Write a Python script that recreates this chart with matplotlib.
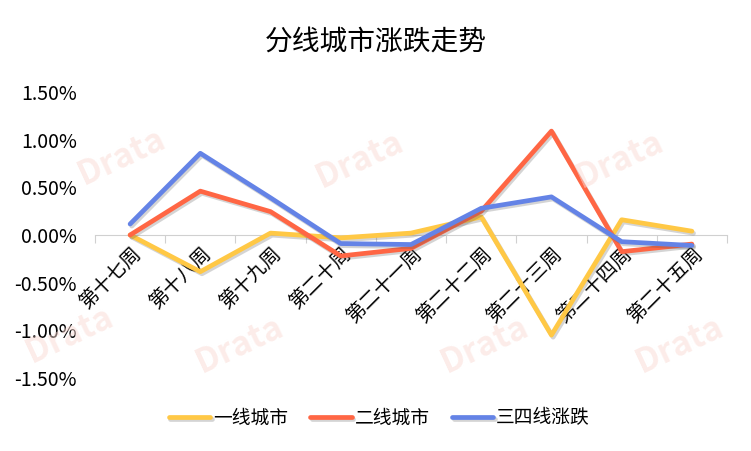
import numpy as np
import matplotlib
matplotlib.use('Agg')
import matplotlib.pyplot as plt
import matplotlib.patheffects as pe
from matplotlib.ticker import FuncFormatter

plt.rcParams['font.family'] = ['Noto Sans CJK SC', 'DejaVu Sans']

weeks = ['第十七周', '第十八周', '第十九周', '第二十周', '第二十一周',
         '第二十二周', '第二十三周', '第二十四周', '第二十五周']
tier1 = [0.00, -0.385, 0.02, -0.03, 0.02, 0.19, -1.05, 0.16, 0.04]
tier2 = [0.00, 0.46, 0.245, -0.22, -0.14, 0.25, 1.09, -0.175, -0.095]
tier34 = [0.115, 0.857, 0.39, -0.09, -0.10, 0.28, 0.40, -0.07, -0.11]
names = ['一线城市', '二线城市', '三四线涨跌']
colors = ['#FFC845', '#FF6644', '#6483E6']

fig = plt.figure(figsize=(7.51, 4.51), dpi=100)
ax = fig.add_axes([95/751, 1-378/451, 632/751, (378-92)/451])

# faint watermarks
for (wx, wy) in [(122, 157), (360, 160), (620, 160), (70, 335), (240, 345), (485, 345), (680, 345)]:
    fig.text(wx/751, 1-wy/451, 'Drata', fontsize=24, color='#FADAD4', alpha=0.5,
             rotation=25, ha='center', va='center', zorder=0, fontweight='bold')

x = np.arange(len(weeks))
shadow = [pe.SimpleLineShadow(offset=(1.2, -1.5), alpha=0.25, shadow_color='#555555'), pe.Normal()]
for vals, nm, c in zip([tier1, tier2, tier34], names, colors):
    ax.plot(x, vals, color=c, lw=3.4, label=nm, solid_capstyle='round',
            path_effects=shadow, zorder=3)

ax.set_xlim(-0.5, len(weeks)-0.5)
ax.set_ylim(-1.5, 1.5)
ax.set_yticks([-1.5, -1.0, -0.5, 0, 0.5, 1.0, 1.5])
ax.yaxis.set_major_formatter(FuncFormatter(lambda v, p: '%.2f%%' % v))
ax.tick_params(axis='y', length=0, labelsize=14, pad=13)

for s in ['top', 'right', 'left']:
    ax.spines[s].set_visible(False)
ax.spines['bottom'].set_position(('data', 0))
ax.spines['bottom'].set_color('#D0D0D0')
ax.spines['bottom'].set_zorder(1)

ax.set_xticks(np.arange(-0.5, len(weeks), 1.0))
ax.set_xticklabels([])
ax.tick_params(axis='x', which='major', length=6, color='#D0D0D0', direction='out')
ax.set_xticks(x, minor=True)
ax.set_xticklabels(weeks, minor=True, rotation=45, ha='right', rotation_mode='anchor',
                   fontsize=14)
ax.tick_params(axis='x', which='minor', length=0, pad=6)

fig.text(0.5, 1-42/451, '分线城市涨跌走势', ha='center', va='center', fontsize=20)

fig.legend(loc='center', bbox_to_anchor=(0.505, 1-418/451), ncol=3, frameon=False,
           fontsize=13.5, handlelength=2.2, columnspacing=1.2, handletextpad=0.15)

fig.savefig('out.png', dpi=100)
